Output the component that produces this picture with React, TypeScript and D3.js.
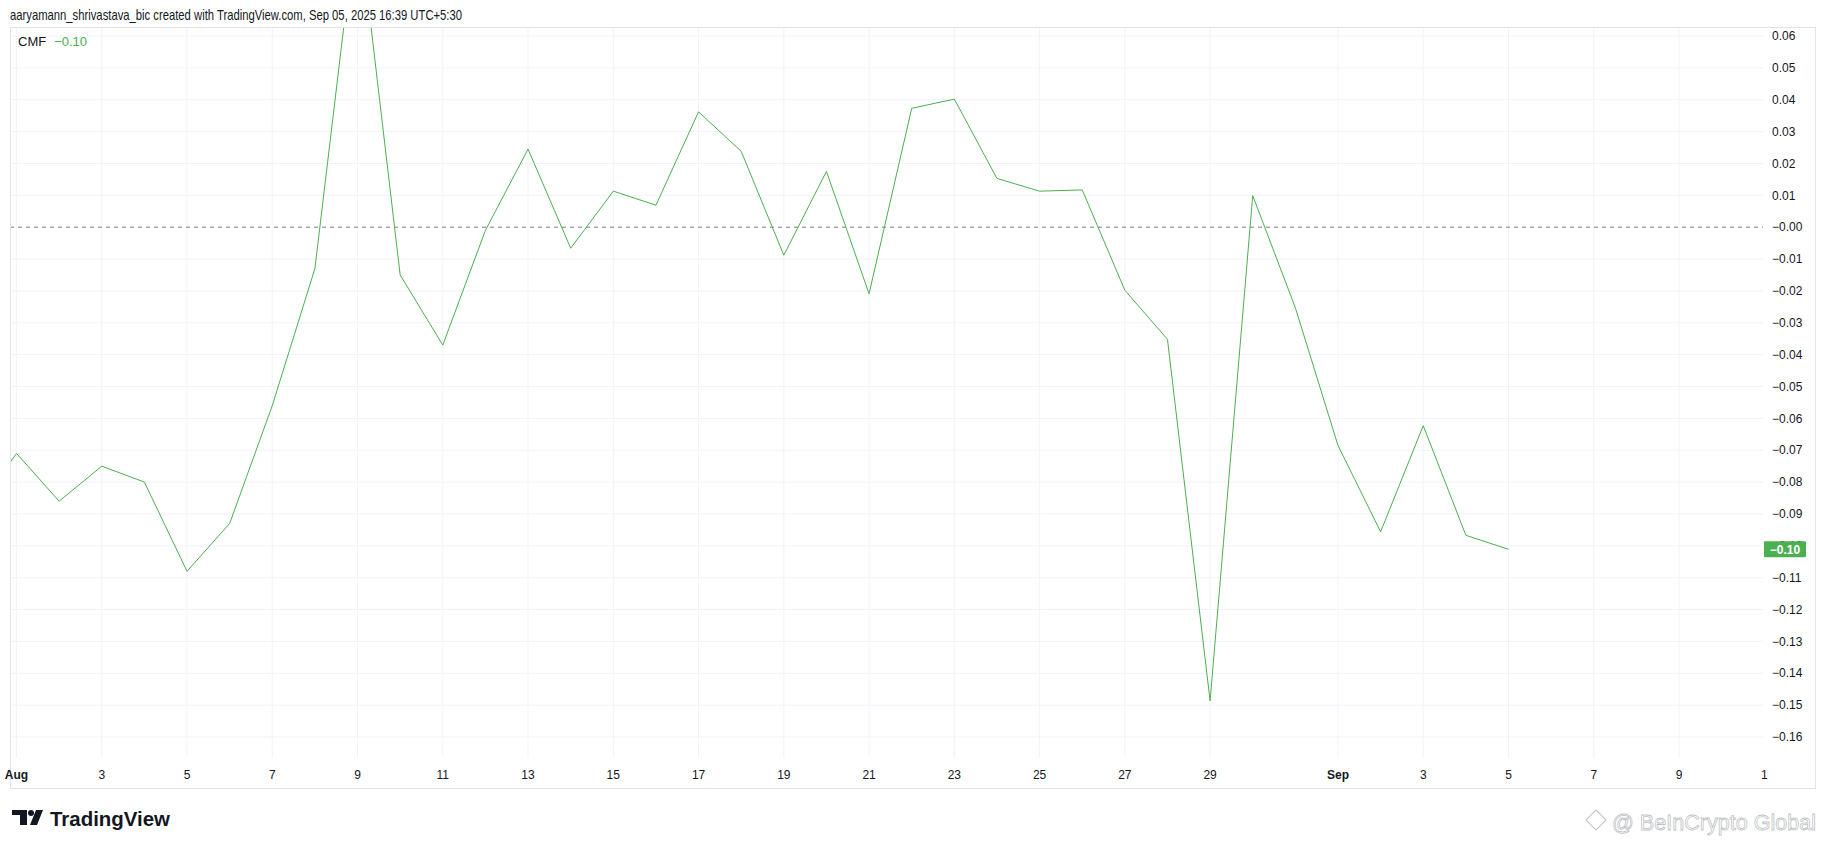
import React from 'react';
import * as d3 from 'd3';

// CMF daily values, Jul 31 -> Sep 5 2025
const dates = [
  '2025-07-31', '2025-08-01', '2025-08-02', '2025-08-03', '2025-08-04', '2025-08-05',
  '2025-08-06', '2025-08-07', '2025-08-08', '2025-08-09', '2025-08-10', '2025-08-11',
  '2025-08-12', '2025-08-13', '2025-08-14', '2025-08-15', '2025-08-16', '2025-08-17',
  '2025-08-18', '2025-08-19', '2025-08-20', '2025-08-21', '2025-08-22', '2025-08-23',
  '2025-08-24', '2025-08-25', '2025-08-26', '2025-08-27', '2025-08-28', '2025-08-29',
  '2025-08-30', '2025-08-31', '2025-09-01', '2025-09-02', '2025-09-03', '2025-09-04',
  '2025-09-05',
];
const cmf = [
  -0.090, -0.071, -0.086, -0.075, -0.080, -0.108,
  -0.093, -0.056, -0.013, 0.099, -0.015, -0.037,
  -0.001, 0.0245, -0.0066, 0.0113, 0.0069, 0.0362,
  0.0238, -0.0088, 0.0175, -0.0209, 0.0373, 0.0402,
  0.0153, 0.0113, 0.0117, -0.0198, -0.0352, -0.1487,
  0.0099, -0.0253, -0.0685, -0.0956, -0.0623, -0.0967,
  -0.1011,
];

const xTickDates = [
  '2025-08-01', '2025-08-03', '2025-08-05', '2025-08-07', '2025-08-09', '2025-08-11',
  '2025-08-13', '2025-08-15', '2025-08-17', '2025-08-19', '2025-08-21', '2025-08-23',
  '2025-08-25', '2025-08-27', '2025-08-29', '2025-09-01', '2025-09-03', '2025-09-05',
  '2025-09-07', '2025-09-09', '2025-09-11',
];
const xTickLabels = [
  'Aug', '3', '5', '7', '9', '11', '13', '15', '17', '19', '21', '23',
  '25', '27', '29', 'Sep', '3', '5', '7', '9', '1',
];

const yTicks = [
  0.06, 0.05, 0.04, 0.03, 0.02, 0.01, 0, -0.01, -0.02, -0.03, -0.04, -0.05,
  -0.06, -0.07, -0.08, -0.09, -0.10, -0.11, -0.12, -0.13, -0.14, -0.15, -0.16,
];
const yTickLabels = [
  '0.06', '0.05', '0.04', '0.03', '0.02', '0.01', '\u22120.00', '\u22120.01', '\u22120.02',
  '\u22120.03', '\u22120.04', '\u22120.05', '\u22120.06', '\u22120.07', '\u22120.08',
  '\u22120.09', '\u22120.10', '\u22120.11', '\u22120.12', '\u22120.13', '\u22120.14',
  '\u22120.15', '\u22120.16',
];

const W = 1825;
const H = 849;
const pane = { left: 10, right: 1763, top: 27, bottom: 758 };
const frameRight = 1815;
const frameBottom = 788;
const DAY = 86400000;
const GREEN = '#4caf50';
const TEXT = '#131722';
const GRID = '#f0f3fa';
const FONT = '"Liberation Sans", Arial, sans-serif';

const parse = (s: string) => new Date(s + 'T00:00:00Z');

export default function App() {
  const t0 = Date.UTC(2025, 7, 1);
  const x = d3
    .scaleUtc()
    .domain([new Date(t0 - 0.1525 * DAY), new Date(t0 + 40.97 * DAY)])
    .range([pane.left, pane.right]);
  const y = d3.scaleLinear().domain([0.06, -0.16]).range([36, 737]);

  const pts = dates.map((d, i) => ({ date: parse(d), v: cmf[i] }));
  const line = d3
    .line<{ date: Date; v: number }>()
    .x((d) => x(d.date))
    .y((d) => y(d.v));

  const last = cmf[cmf.length - 1];
  const lastLabel = '\u2212' + Math.abs(last).toFixed(2);

  return (
    <svg
      width={W}
      height={H}
      style={{ position: 'absolute', left: 0, top: 0, background: '#fff' }}
      fontFamily={FONT}
    >
      <rect x={0} y={0} width={W} height={H} fill="#fff" />
      <defs>
        <clipPath id="pane">
          <rect x={pane.left} y={pane.top} width={pane.right - pane.left} height={pane.bottom - pane.top} />
        </clipPath>
      </defs>

      {/* header */}
      <text x={10} y={20} fontSize={14.5} fill={TEXT} textLength={452} lengthAdjust="spacingAndGlyphs">
        aaryamann_shrivastava_bic created with TradingView.com, Sep 05, 2025 16:39 UTC+5:30
      </text>

      {/* grid */}
      <g clipPath="url(#pane)">
        {yTicks.map((t) =>
          t === 0 ? null : (
            <line key={'h' + t} x1={pane.left} x2={pane.right} y1={y(t)} y2={y(t)} stroke={GRID} />
          )
        )}
        {xTickDates.map((d) => (
          <line
            key={'v' + d}
            x1={x(parse(d))}
            x2={x(parse(d))}
            y1={pane.top}
            y2={pane.bottom + 10}
            stroke={GRID}
          />
        ))}
        <line
          x1={pane.left}
          x2={pane.right}
          y1={y(0)}
          y2={y(0)}
          stroke="#787b86"
          strokeDasharray="4 4"
        />
        <path d={line(pts) || ''} fill="none" stroke={GREEN} strokeWidth={1} />
      </g>

      {/* frame */}
      <rect
        x={pane.left + 0.5}
        y={pane.top + 0.5}
        width={frameRight - pane.left}
        height={frameBottom - pane.top}
        fill="none"
        stroke="#e0e3eb"
      />

      {/* legend */}
      <text x={18} y={46} fontSize={13} fill={TEXT}>
        CMF
        <tspan dx={8} fill={GREEN}>{lastLabel}</tspan>
      </text>

      {/* price axis */}
      {yTicks.map((t, i) => (
        <text key={'yl' + t} x={1772} y={y(t)} dy="0.35em" fontSize={12} fill={TEXT}>
          {yTickLabels[i]}
        </text>
      ))}
      <rect x={1764} y={y(last) - 8} width={42} height={16} fill={GREEN} rx={1} />
      <text x={1785} y={y(last)} dy="0.36em" fontSize={12} fill="#fff" textAnchor="middle" fontWeight={600}>
        {lastLabel}
      </text>

      {/* time axis */}
      {xTickDates.map((d, i) => (
        <text
          key={'xl' + d}
          x={x(parse(d))}
          y={779}
          fontSize={12}
          fill={TEXT}
          textAnchor="middle"
          fontWeight={xTickLabels[i] === 'Aug' || xTickLabels[i] === 'Sep' ? 600 : 400}
        >
          {xTickLabels[i]}
        </text>
      ))}

      {/* TradingView logo */}
      <g fill={TEXT}>
        <path d="M12 810 H27 V825 H20 V815 H12 Z" />
        <circle cx={31} cy={813} r={3} />
        <path d="M36 810 H43 L37 825 H30 Z" />
        <text x={50} y={826} fontSize={20} fontWeight={700} textLength={120} lengthAdjust="spacingAndGlyphs">
          TradingView
        </text>
      </g>

      {/* watermark */}
      <g opacity={0.55}>
        <path
          d="M1596 810 L1606 820 L1596 830 L1586 820 Z"
          fill="none"
          stroke="#9aa0a6"
          strokeWidth={1.2}
        />
        <text
          x={1612}
          y={830}
          fontSize={22}
          fill="#fff"
          stroke="#8a8f96"
          strokeWidth={0.8}
          textLength={204}
          lengthAdjust="spacingAndGlyphs"
        >
          @ BeInCrypto Global
        </text>
      </g>
    </svg>
  );
}
